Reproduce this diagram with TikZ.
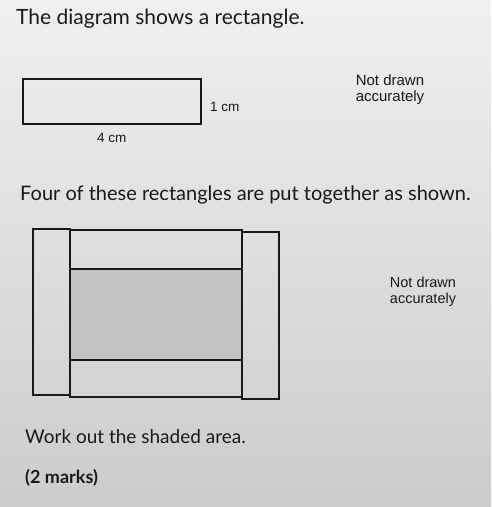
\documentclass[tikz,border=0pt]{standalone}
\usepackage{fontspec}
\setmainfont{Lato}
\setsansfont{Liberation Sans}
\usetikzlibrary{positioning}
\definecolor{ink}{gray}{0.1}
\definecolor{shadegray}{gray}{0.76}

\begin{document}
\begin{tikzpicture}[x=1pt,y=-1pt]
\shade[top color=black!6,bottom color=black!20] (0,0) rectangle (491,507);
\useasboundingbox (0,0) rectangle (491,507);

\begin{scope}[every node/.style={anchor=base west,inner sep=0pt,text=ink}]
    \node (title) at (16,24) {\fontsize{21}{25}\selectfont The diagram shows a rectangle.};
    \node (four) at (20,200) {\fontsize{20}{24}\selectfont Four of these rectangles are put together as shown.};
    \node (work) at (25,443) {\fontsize{19}{23}\selectfont Work out the shaded area.};
    \node (marks) at (25,483) {\fontsize{18}{22}\selectfont\bfseries (2 marks)};
\end{scope}

\begin{scope}[every node/.style={inner sep=0pt,text=ink}]
    \node[anchor=base west,font=\sffamily\fontsize{13.5}{16}\selectfont] (width) at (97,142) {4 cm};
    \node[anchor=base west,font=\sffamily\fontsize{13.5}{16}\selectfont] (height) at (210,111) {1 cm};
    \node[align=center,font=\sffamily\fontsize{15}{16}\selectfont] (note1) at (390,90) {Not drawn\\accurately};
    \node[align=center,font=\sffamily\fontsize{14.5}{16}\selectfont] (note2) at (423,292) {Not drawn\\accurately};
\end{scope}

% single rectangle
\draw[ink,line width=1.3pt] (23,79) rectangle (201,124);

% four rectangles
\begin{scope}[ink,line width=1.3pt]
    \fill[shadegray] (70,269) rectangle (242,360);
    \draw (33,229) rectangle (70,395);
    \draw (242,232) rectangle (279,399);
    \draw (70,230) rectangle (242,269);
    \draw (70,360) rectangle (242,397);
\end{scope}
\end{tikzpicture}
\end{document}
